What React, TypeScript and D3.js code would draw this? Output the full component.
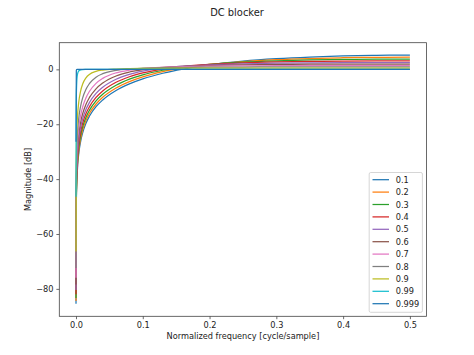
import * as d3 from 'd3'
import React, { useEffect, useRef } from 'react'

// pole values of the DC blocker, one curve each
const poles = ['0.1', '0.2', '0.3', '0.4', '0.5', '0.6', '0.7', '0.8', '0.9', '0.99', '0.999']

// sample frequencies (cycle/sample)
const freqs = [0.0000076, 0.0005, 0.001, 0.002, 0.004, 0.007, 0.01, 0.015, 0.02, 0.03, 0.04, 0.06, 0.08, 0.1, 0.13, 0.16, 0.2, 0.25, 0.3, 0.35, 0.4, 0.45, 0.5]

// magnitude in dB, one row per pole
const mag01 = [-85.47, -49.14, -43.12, -37.1, -31.08, -26.22, -23.12, -19.61, -17.11, -13.61, -11.14, -7.68, -5.28, -3.46, -1.41, 0.12, 1.64, 2.97, 3.88, 4.5, 4.9, 5.12, 5.19]
const mag02 = [-84.45, -48.12, -42.1, -36.08, -30.06, -25.2, -22.1, -18.59, -16.1, -12.62, -10.16, -6.77, -4.45, -2.73, -0.84, 0.51, 1.78, 2.84, 3.52, 3.96, 4.24, 4.39, 4.44]
const mag03 = [-83.29, -46.96, -40.94, -34.92, -28.9, -24.04, -20.95, -17.44, -14.96, -11.5, -9.08, -5.79, -3.58, -1.99, -0.32, 0.82, 1.84, 2.64, 3.12, 3.43, 3.61, 3.71, 3.74]
const mag04 = [-81.95, -45.62, -39.6, -33.58, -27.56, -22.71, -19.62, -16.12, -13.66, -10.24, -7.87, -4.72, -2.68, -1.28, 0.13, 1.04, 1.8, 2.37, 2.7, 2.9, 3.01, 3.08, 3.1]
const mag05 = [-80.37, -44.04, -38.02, -32.0, -25.98, -21.13, -18.05, -14.57, -12.14, -8.78, -6.51, -3.58, -1.79, -0.62, 0.48, 1.14, 1.67, 2.04, 2.25, 2.38, 2.45, 2.49, 2.5]
const mag06 = [-78.43, -42.1, -36.08, -30.06, -24.05, -19.21, -16.14, -12.7, -10.31, -7.09, -4.98, -2.4, -0.96, -0.08, 0.69, 1.12, 1.45, 1.68, 1.8, 1.87, 1.91, 1.93, 1.94]
const mag07 = [-75.93, -39.6, -33.58, -27.56, -21.56, -16.74, -13.71, -10.35, -8.07, -5.11, -3.29, -1.27, -0.27, 0.29, 0.74, 0.99, 1.16, 1.28, 1.34, 1.38, 1.4, 1.41, 1.41]
const mag08 = [-72.41, -36.08, -30.06, -24.05, -18.07, -13.32, -10.39, -7.25, -5.23, -2.85, -1.57, -0.35, 0.17, 0.43, 0.64, 0.74, 0.82, 0.86, 0.89, 0.9, 0.91, 0.91, 0.92]
const mag09 = [-66.39, -30.06, -24.05, -18.08, -12.23, -7.83, -5.36, -3.07, -1.86, -0.73, -0.25, 0.13, 0.27, 0.33, 0.38, 0.41, 0.42, 0.43, 0.44, 0.44, 0.44, 0.45, 0.45]
const mag099 = [-46.39, -10.46, -5.47, -2.1, -0.6, -0.18, -0.07, -0.01, 0.02, 0.03, 0.04, 0.04, 0.04, 0.04, 0.04, 0.04, 0.04, 0.04, 0.04, 0.04, 0.04, 0.04, 0.04]
const mag0999 = [-26.4, -0.42, -0.1, -0.02, 0.0, 0.0, 0.0, 0.0, 0.0, 0.0, 0.0, 0.0, 0.0, 0.0, 0.0, 0.0, 0.0, 0.0, 0.0, 0.0, 0.0, 0.0, 0.0]

const series = [mag01, mag02, mag03, mag04, mag05, mag06, mag07, mag08, mag09, mag099, mag0999]

const xTicks = [0, 0.1, 0.2, 0.3, 0.4, 0.5]
const yTicks = [-80, -60, -40, -20, 0]

const colors = ['#1f77b4', '#ff7f0e', '#2ca02c', '#d62728', '#9467bd', '#8c564b', '#e377c2', '#7f7f7f', '#bcbd22', '#17becf', '#1f77b4']

const App = () => {
  const ref = useRef(null)

  useEffect(() => {
    const width = 474
    const height = 355
    const left = 59.3, right = 426.6, top = 42.7, bottom = 316.3
    const font = 'DejaVu Sans, sans-serif'
    const textColor = '#222'
    const fs = 8.2

    const svg = d3.select(ref.current)
    svg.selectAll('*').remove()
    svg.attr('width', width).attr('height', height)

    const x = d3.scaleLinear().domain([-0.025, 0.525]).range([left, right])
    const y = d3.scaleLinear().domain([-90.0, 9.72]).range([bottom, top])

    svg.append('rect').attr('width', width).attr('height', height).attr('fill', '#fff')

    const clip = svg.append('defs').append('clipPath').attr('id', 'plotclip')
    clip.append('rect').attr('x', left).attr('y', top).attr('width', right - left).attr('height', bottom - top)

    const line = d3
      .line<number>()
      .x((d, i) => x(freqs[i]))
      .y((d) => y(d))
      .curve(d3.curveMonotoneX)

    const plot = svg.append('g').attr('clip-path', 'url(#plotclip)')
    series.forEach((s, i) => {
      plot
        .append('path')
        .attr('d', line(s))
        .attr('fill', 'none')
        .attr('stroke', colors[i])
        .attr('stroke-width', 1.25)
    })

    // axes frame
    svg
      .append('rect')
      .attr('x', left)
      .attr('y', top)
      .attr('width', right - left)
      .attr('height', bottom - top)
      .attr('fill', 'none')
      .attr('stroke', '#444')
      .attr('stroke-width', 0.8)

    const xg = svg.append('g').attr('transform', `translate(0,${bottom})`)
    xg.call(
      d3.axisBottom(x).tickValues(xTicks).tickFormat(d3.format('.1f')).tickSize(2.9).tickPadding(3.2)
    )
    const yg = svg.append('g').attr('transform', `translate(${left},0)`)
    yg.call(
      d3.axisLeft(y).tickValues(yTicks).tickFormat((d: any) => (d < 0 ? '\u2212' + Math.abs(d) : String(d))).tickSize(2.9).tickPadding(2.9)
    )
    ;[xg, yg].forEach((g) => {
      g.select('.domain').remove()
      g.selectAll('line').attr('stroke', '#444').attr('stroke-width', 0.8)
      g.selectAll('text').attr('font-family', font).attr('font-size', fs).attr('fill', textColor)
    })

    svg
      .append('text')
      .attr('x', 237)
      .attr('y', 15.5)
      .attr('text-anchor', 'middle')
      .attr('font-family', font)
      .attr('font-size', 9.9)
      .attr('fill', textColor)
      .text('DC blocker')

    svg
      .append('text')
      .attr('x', (left + right) / 2)
      .attr('y', 339.3)
      .attr('text-anchor', 'middle')
      .attr('font-family', font)
      .attr('font-size', fs)
      .attr('fill', textColor)
      .text('Normalized frequency [cycle/sample]')

    svg
      .append('text')
      .attr('transform', `translate(31.3,${(top + bottom) / 2}) rotate(-90)`)
      .attr('text-anchor', 'middle')
      .attr('font-family', font)
      .attr('font-size', fs)
      .attr('fill', textColor)
      .text('Magnitude [dB]')

    // legend
    const lg = svg.append('g')
    const lx = 369.2, ly = 172.5, lw = 53.2, rowH = 12.4
    lg.append('rect')
      .attr('x', lx)
      .attr('y', ly)
      .attr('width', lw)
      .attr('height', 312.3 - ly)
      .attr('rx', 1.5)
      .attr('fill', '#fff')
      .attr('fill-opacity', 0.8)
      .attr('stroke', '#cccccc')
      .attr('stroke-width', 0.8)
    poles.forEach((p, i) => {
      const cy = 179.7 + i * rowH
      lg.append('line')
        .attr('x1', lx + 3.3)
        .attr('x2', lx + 19.8)
        .attr('y1', cy)
        .attr('y2', cy)
        .attr('stroke', colors[i])
        .attr('stroke-width', 1.25)
      lg.append('text')
        .attr('x', lx + 26.6)
        .attr('y', cy + 3)
        .attr('font-family', font)
        .attr('font-size', fs)
        .attr('fill', textColor)
        .text(p)
    })
  }, [])

  return <svg ref={ref} style={{ position: 'absolute', left: 0, top: 0, display: 'block' }}></svg>
}

export default App
